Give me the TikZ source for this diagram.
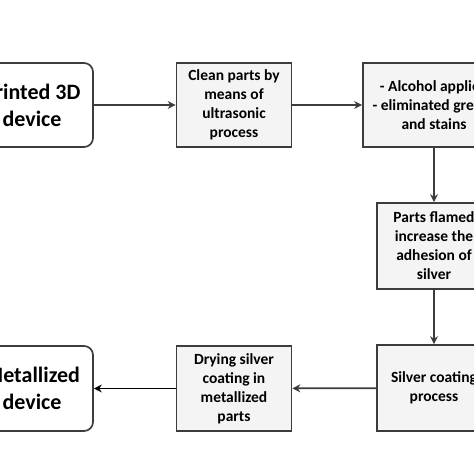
\documentclass[tikz,border=0pt]{standalone}
\usepackage{fontspec}
\setmainfont{Carlito}
\usetikzlibrary{arrows.meta}
\definecolor{edge}{HTML}{3C3C3C}
\definecolor{boxfill}{HTML}{F4F4F4}
\tikzset{
  x=1pt, y=-1pt,
  stepbox/.style={draw=edge, line width=1.7pt, fill=boxfill, minimum width=115pt, minimum height=84pt, align=center, font=\bfseries\fontsize{15.5}{19}\selectfont, inner sep=2pt},
  endbox/.style={draw=edge, line width=1.7pt, fill=white, rounded corners=9pt, minimum width=122pt, minimum height=84pt, align=center, font=\bfseries\fontsize{22}{27}\selectfont},
  flow/.style={draw=edge, line width=1.7pt, -{Stealth[length=8pt,width=8pt]}},
  flowdark/.style={draw=black, line width=1.4pt, -{Stealth[length=8pt,width=8pt]}}
}
\begin{document}
\begin{tikzpicture}
\useasboundingbox (0,0) rectangle (474,474);
\clip (0,0) rectangle (474,474);
\fill[white] (0,0) rectangle (474,474);
\node[endbox] (start) at (32,105) {Printed 3D\\device};
\node[stepbox] (clean) at (234,105) {Clean parts by\\means of\\ultrasonic\\process};
\node[stepbox, minimum width=142pt] (alc) at (434,105) {- Alcohol applied\\- eliminated grease\\and stains};
\node[stepbox, minimum width=114pt, minimum height=86pt] (flame) at (434,246) {Parts flamed\\increase the\\adhesion of\\silver};
\node[stepbox, minimum width=114pt, minimum height=86pt] (coat) at (434,388) {Silver coating\\process};
\node[stepbox, minimum height=85pt] (dry) at (234,388.5) {Drying silver\\coating in\\metallized\\parts};
\node[endbox, minimum height=85pt] (final) at (32,388.5) {Metallized\\device};
\draw[flow] (start) -- (clean);
\draw[flow] (clean) -- (alc);
\draw[flow] (alc) -- (flame);
\draw[flow] (flame) -- (coat);
\draw[flow] (coat) -- (dry);
\draw[flowdark] (dry) -- (final);
\end{tikzpicture}
\end{document}
